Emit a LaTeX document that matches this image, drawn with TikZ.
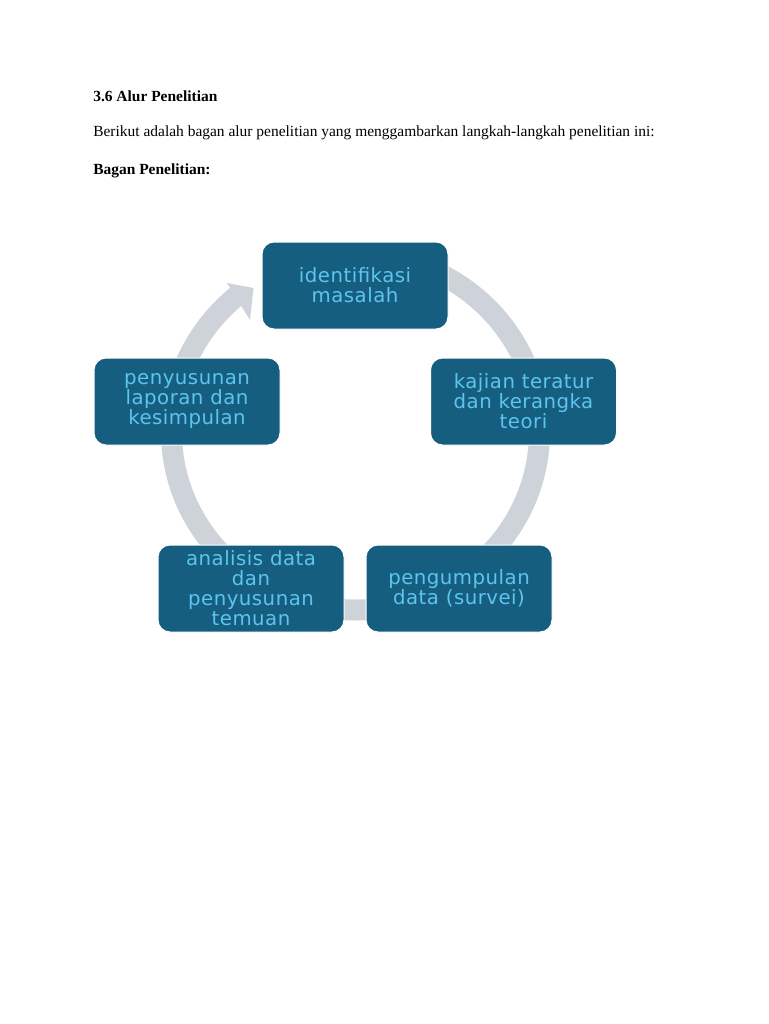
\documentclass[tikz,border=0pt]{standalone}
\usepackage{fontspec}
\setmainfont{Liberation Serif}
\newfontfamily\boxfont[LetterSpace=2.5]{DejaVu Sans}
\definecolor{boxblue}{RGB}{22,94,128}
\definecolor{boxtext}{RGB}{93,196,238}
\definecolor{ringgray}{RGB}{206,211,218}
\begin{document}
\begin{tikzpicture}[x=0.75pt,y=-0.75pt,
  stage/.style={rounded corners=9pt, fill=boxblue, draw=white, line width=0.75pt,
    minimum width=139.5pt, minimum height=65.25pt, inner sep=0pt, align=center,
    text=boxtext, font=\boxfont\fontsize{14.8}{15}\selectfont},
  bodytext/.style={anchor=base west, inner sep=0pt, font=\fontsize{11.6}{14}\selectfont},
  headtext/.style={anchor=base west, inner sep=0pt, font=\fontsize{11.6}{14}\selectfont\bfseries},
  ring/.style={draw=ringgray, line width=15.75pt}]
\useasboundingbox[fill=white] (0,0) rectangle (768,1024);

\node[headtext] (title) at (93,101) {3.6 Alur Penelitian};
\node[bodytext] (intro) at (93,137) {Berikut adalah bagan alur penelitian yang menggambarkan langkah-langkah penelitian ini:};
\node[headtext] (bagan) at (93,174) {Bagan Penelitian:};

% ring
\coordinate (c) at (355.5,432);
\draw[ring] (c) ++(-129:184 and 178) arc[start angle=-129, end angle=-460, x radius=184, y radius=178];
\fill[ringgray] (227,283) -- (253.5,288) -- (250,320) -- cycle;

% stages
\node[stage] (s1) at (355,285.5) {identifikasi\\masalah};
\node[stage] (s2) at (523.5,401.5) {kajian teratur\\dan kerangka\\teori};
\node[stage] (s3) at (459,588.5) {pengumpulan\\data (survei)};
\node[stage] (s4) at (251,588.5) {analisis data\\dan\\penyusunan\\temuan};
\node[stage] (s5) at (187,401.5) {penyusunan\\laporan dan\\kesimpulan};
\end{tikzpicture}
\end{document}
